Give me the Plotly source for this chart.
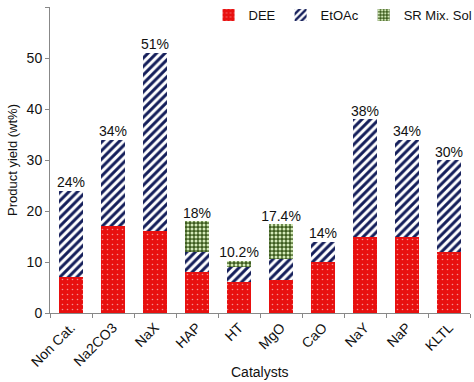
import plotly.graph_objects as go

categories = ["Non Cat.", "Na2CO3", "NaX", "HAP", "HT", "MgO", "CaO", "NaY", "NaP", "KLTL"]
dee = [7, 17, 16, 8, 6, 6.4, 10, 15, 15, 12]
etoac = [17, 17, 35, 4, 3, 4.1, 4, 23, 19, 18]
sr_mix = [0, 0, 0, 6, 1.2, 6.9, 0, 0, 0, 0]
totals = [24, 34, 51, 18, 10.2, 17.4, 14, 38, 34, 30]
total_labels = ["24%", "34%", "51%", "18%", "10.2%", "17.4%", "14%", "38%", "34%", "30%"]

FONT = "Liberation Sans, Arial, sans-serif"

fig = go.Figure()
fig.add_trace(go.Bar(
    x=categories, y=dee, name="DEE",
    marker=dict(color="#e8100f", line=dict(width=0),
                pattern=dict(shape=".", fgcolor="#f49090", bgcolor="#e8100f", size=5,
                             solidity=0.08, fgopacity=1)),
))
fig.add_trace(go.Bar(
    x=categories, y=etoac, name="EtOAc",
    marker=dict(color="#ffffff", line=dict(width=0),
                pattern=dict(shape="/", fgcolor="#141e5a", bgcolor="#ffffff", size=6,
                             solidity=0.5, fgopacity=1)),
))
fig.add_trace(go.Bar(
    x=categories, y=sr_mix, name="SR Mix. Sol",
    marker=dict(color="#3d5c1e", line=dict(width=0),
                pattern=dict(shape=".", fgcolor="#d4eab8", bgcolor="#3d5c1e", size=4,
                             solidity=0.45, fgopacity=1)),
))
fig.add_trace(go.Scatter(
    x=categories, y=totals, mode="text", text=total_labels,
    textposition="top center", textfont=dict(size=14, color="#111111", family=FONT),
    showlegend=False, hoverinfo="skip",
))

fig.update_layout(
    barmode="stack", bargap=0.45,
    width=474, height=382,
    margin=dict(l=50, r=4, t=7, b=69, autoexpand=False),
    paper_bgcolor="white", plot_bgcolor="white",
    font=dict(family=FONT, size=13, color="#111111"),
    legend=dict(orientation="h", xref="container", yref="container",
                x=0.44, y=1.0, xanchor="left", yanchor="top",
                font=dict(size=13), itemwidth=30, traceorder="normal",
                bgcolor="rgba(255,255,255,0)"),
    xaxis=dict(
        tickangle=-45, showline=True, linecolor="#888888", linewidth=1,
        ticks="outside", ticklen=4, tickcolor="#888888",
        tickson="boundaries", tickfont=dict(size=14), automargin=False,
    ),
    yaxis=dict(
        title=dict(text="Product yield (wt%)", font=dict(size=13), standoff=6),
        range=[0, 60], dtick=10, showline=True, linecolor="#888888", linewidth=1,
        ticks="outside", ticklen=4, tickcolor="#888888", showgrid=False, zeroline=False,
        tickfont=dict(size=14), automargin=False,
    ),
    annotations=[dict(text="Catalysts", xref="paper", yref="paper", x=0.5, y=-0.193,
                      xanchor="center", yanchor="middle", showarrow=False,
                      font=dict(size=14, family=FONT, color="#111111"))],
)

fig.write_html("out.html", config={"displayModeBar": False},
               post_script="document.body.style.margin='0';")
